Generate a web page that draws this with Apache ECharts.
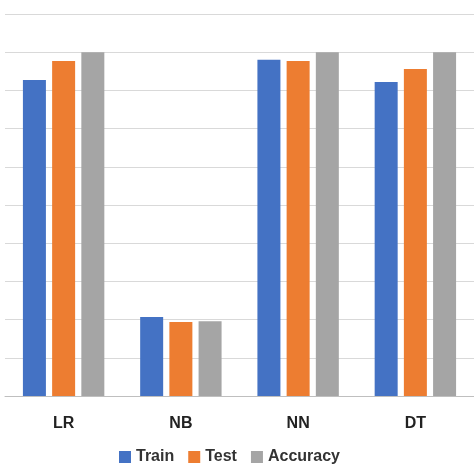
<!DOCTYPE html>
<html><head><meta charset="utf-8">
<script src="https://cdn.jsdelivr.net/npm/echarts@6/dist/echarts.min.js"></script>
<style>html,body{margin:0;padding:0;background:#fff}#c{width:474px;height:474px}</style>
</head><body><div id="c"></div>
<script>
const categories = ["LR", "NB", "NN", "DT"];
const train = [82.7, 20.7, 88.0, 82.2];
const test = [87.7, 19.4, 87.7, 85.6];
const accuracy = [90.0, 19.6, 90.0, 90.0];

const chart = echarts.init(document.getElementById("c"));
const bar = (name, data, color) => ({
    name, type: "bar", data, barWidth: 23, barGap: "27%",
    itemStyle: { color }
});
chart.setOption({
    animation: false,
    grid: { left: 5, width: 520, top: 14, bottom: 78, containLabel: false },
    legend: {
        bottom: 4, left: 114, itemWidth: 12, itemHeight: 12, itemGap: 14,
        icon: "rect",
        textStyle: { fontSize: 16, fontWeight: "bold", color: "#333", fontFamily: "Liberation Sans" }
    },
    xAxis: {
        type: "category", data: categories,
        axisTick: { show: false },
        axisLine: { lineStyle: { color: "#bfbfbf" } },
        axisLabel: { fontSize: 16, fontWeight: "bold", color: "#222", margin: 20, fontFamily: "Liberation Sans" }
    },
    yAxis: {
        type: "value", min: 0, max: 100, interval: 10,
        axisLabel: { show: false },
        splitLine: { lineStyle: { color: "#d9d9d9" } }
    },
    series: [
        bar("Train", train, "#4472C4"),
        bar("Test", test, "#ED7D31"),
        bar("Accuracy", accuracy, "#A5A5A5")
    ]
});
</script></body></html>
